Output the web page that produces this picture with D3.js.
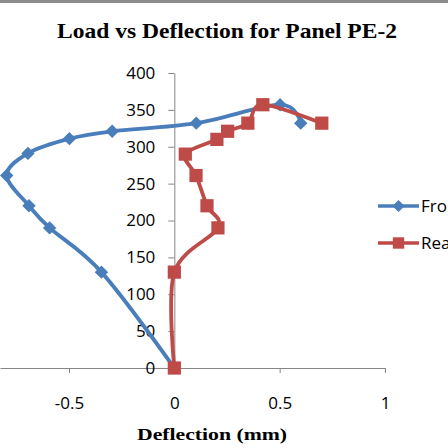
<!DOCTYPE html>
<html>
<head>
<meta charset="utf-8">
<script src="https://cdn.jsdelivr.net/npm/d3@7"></script>
<style>
  body { margin: 0; background: #fff; overflow: hidden; }
  svg { display: block; overflow: hidden; }
</style>
</head>
<body>
<svg width="448" height="448"></svg>
<script>
// load vs deflection
var frontX = [0, -0.346, -0.592, -0.69, -0.796, -0.695, -0.498, -0.295, 0.104, 0.502, 0.6];
var frontY = [0, 130, 190, 220, 261, 291, 311, 321, 332, 357, 332];
var rearX = [0, 0, 0.207, 0.155, 0.103, 0.052, 0.202, 0.253, 0.349, 0.42, 0.7];
var rearY = [0, 130, 190, 220, 261, 290, 310, 321, 332, 357, 332];
var xTicks = [-0.5, 0, 0.5, 1];
var yTicks = [0, 50, 100, 150, 200, 250, 300, 350, 400];
var seriesNames = ["Front", "Rear"];

var blue = "#4a7ebb", red = "#be4b48", axisGrey = "#868686";

var svg = d3.select("svg");

svg.append("rect").attr("width", 448).attr("height", 448).attr("fill", "#fff");
svg.append("rect").attr("width", 448).attr("height", 3).attr("fill", "#8c8c8c");

var x = d3.scaleLinear().domain([-0.5, 1]).range([69, 385]);
var y = d3.scaleLinear().domain([0, 400]).range([368, 73]);

function pairs(xs, ys) {
  return xs.map(function(v, i) { return {x: v, y: ys[i]}; });
}
var series = [
  {name: seriesNames[0], color: blue, shape: "diamond", values: pairs(frontX, frontY)},
  {name: seriesNames[1], color: red, shape: "square", values: pairs(rearX, rearY)}
];

var line = d3.line()
  .x(function(d) { return x(d.x); })
  .y(function(d) { return y(d.y); })
  .curve(d3.curveCatmullRom.alpha(0));

function marker(sel, s, cx, cy, small) {
  if (s.shape == "diamond") {
    sel.append("path")
      .attr("d", d3.symbol().type(d3.symbolSquare).size(small ? 75 : 90)())
      .attr("transform", "translate(" + cx + "," + cy + ") rotate(45)")
      .attr("fill", s.color);
  } else {
    sel.append("path")
      .attr("d", d3.symbol().type(d3.symbolSquare).size(small ? 130 : 175)())
      .attr("transform", "translate(" + cx + "," + cy + ")")
      .attr("fill", s.color);
  }
}

// axes
var xAxisScale = x.copy().domain([x.invert(0), 1]).range([0, x(1)]);
var xAxis = svg.append("g")
  .attr("transform", "translate(0," + y(0) + ")")
  .call(d3.axisBottom(xAxisScale).tickValues(xTicks).tickSize(5).tickSizeOuter(0).tickPadding(24)
    .tickFormat(function(d) { return d; }));

var yAxis = svg.append("g")
  .attr("transform", "translate(" + x(0) + ",0)")
  .call(d3.axisLeft(y).tickValues(yTicks).tickSize(6).tickSizeOuter(0).tickPadding(13));

[xAxis, yAxis].forEach(function(g) {
  g.selectAll("path, line").attr("stroke", axisGrey);
  g.selectAll("text")
    .attr("fill", "#000")
    .style("font-family", "'Open Sans', sans-serif")
    .style("font-size", "17px");
});

// series
series.forEach(function(s) {
  var g = svg.append("g");
  g.append("path")
    .attr("d", line(s.values))
    .attr("fill", "none")
    .attr("stroke", s.color)
    .attr("stroke-width", 3.8);
  s.values.forEach(function(d) {
    marker(g, s, x(d.x), y(d.y), false);
  });
});

// legend (cut off by the right edge like the source)
series.forEach(function(s, i) {
  var ly = 206 + i * 37;
  var g = svg.append("g");
  g.append("line")
    .attr("x1", 378).attr("x2", 419).attr("y1", ly).attr("y2", ly)
    .attr("stroke", s.color).attr("stroke-width", 3.5);
  marker(g, s, 398.5, ly, true);
  g.append("text")
    .attr("x", 421).attr("y", ly + 6)
    .style("font-family", "'Open Sans', sans-serif")
    .style("font-size", "17px")
    .text(s.name);
});

// titles
svg.append("text")
  .attr("x", 227).attr("y", 38)
  .attr("text-anchor", "middle")
  .attr("textLength", 340).attr("lengthAdjust", "spacingAndGlyphs")
  .style("font-family", "'Liberation Serif', 'Times New Roman', serif")
  .style("font-weight", "bold")
  .style("font-size", "22px")
  .text("Load vs Deflection for Panel PE-2");

svg.append("text")
  .attr("x", 212).attr("y", 440)
  .attr("text-anchor", "middle")
  .attr("textLength", 150).attr("lengthAdjust", "spacingAndGlyphs")
  .style("font-family", "'Liberation Serif', 'Times New Roman', serif")
  .style("font-weight", "bold")
  .style("font-size", "17px")
  .text("Deflection (mm)");
</script>
</body>
</html>
